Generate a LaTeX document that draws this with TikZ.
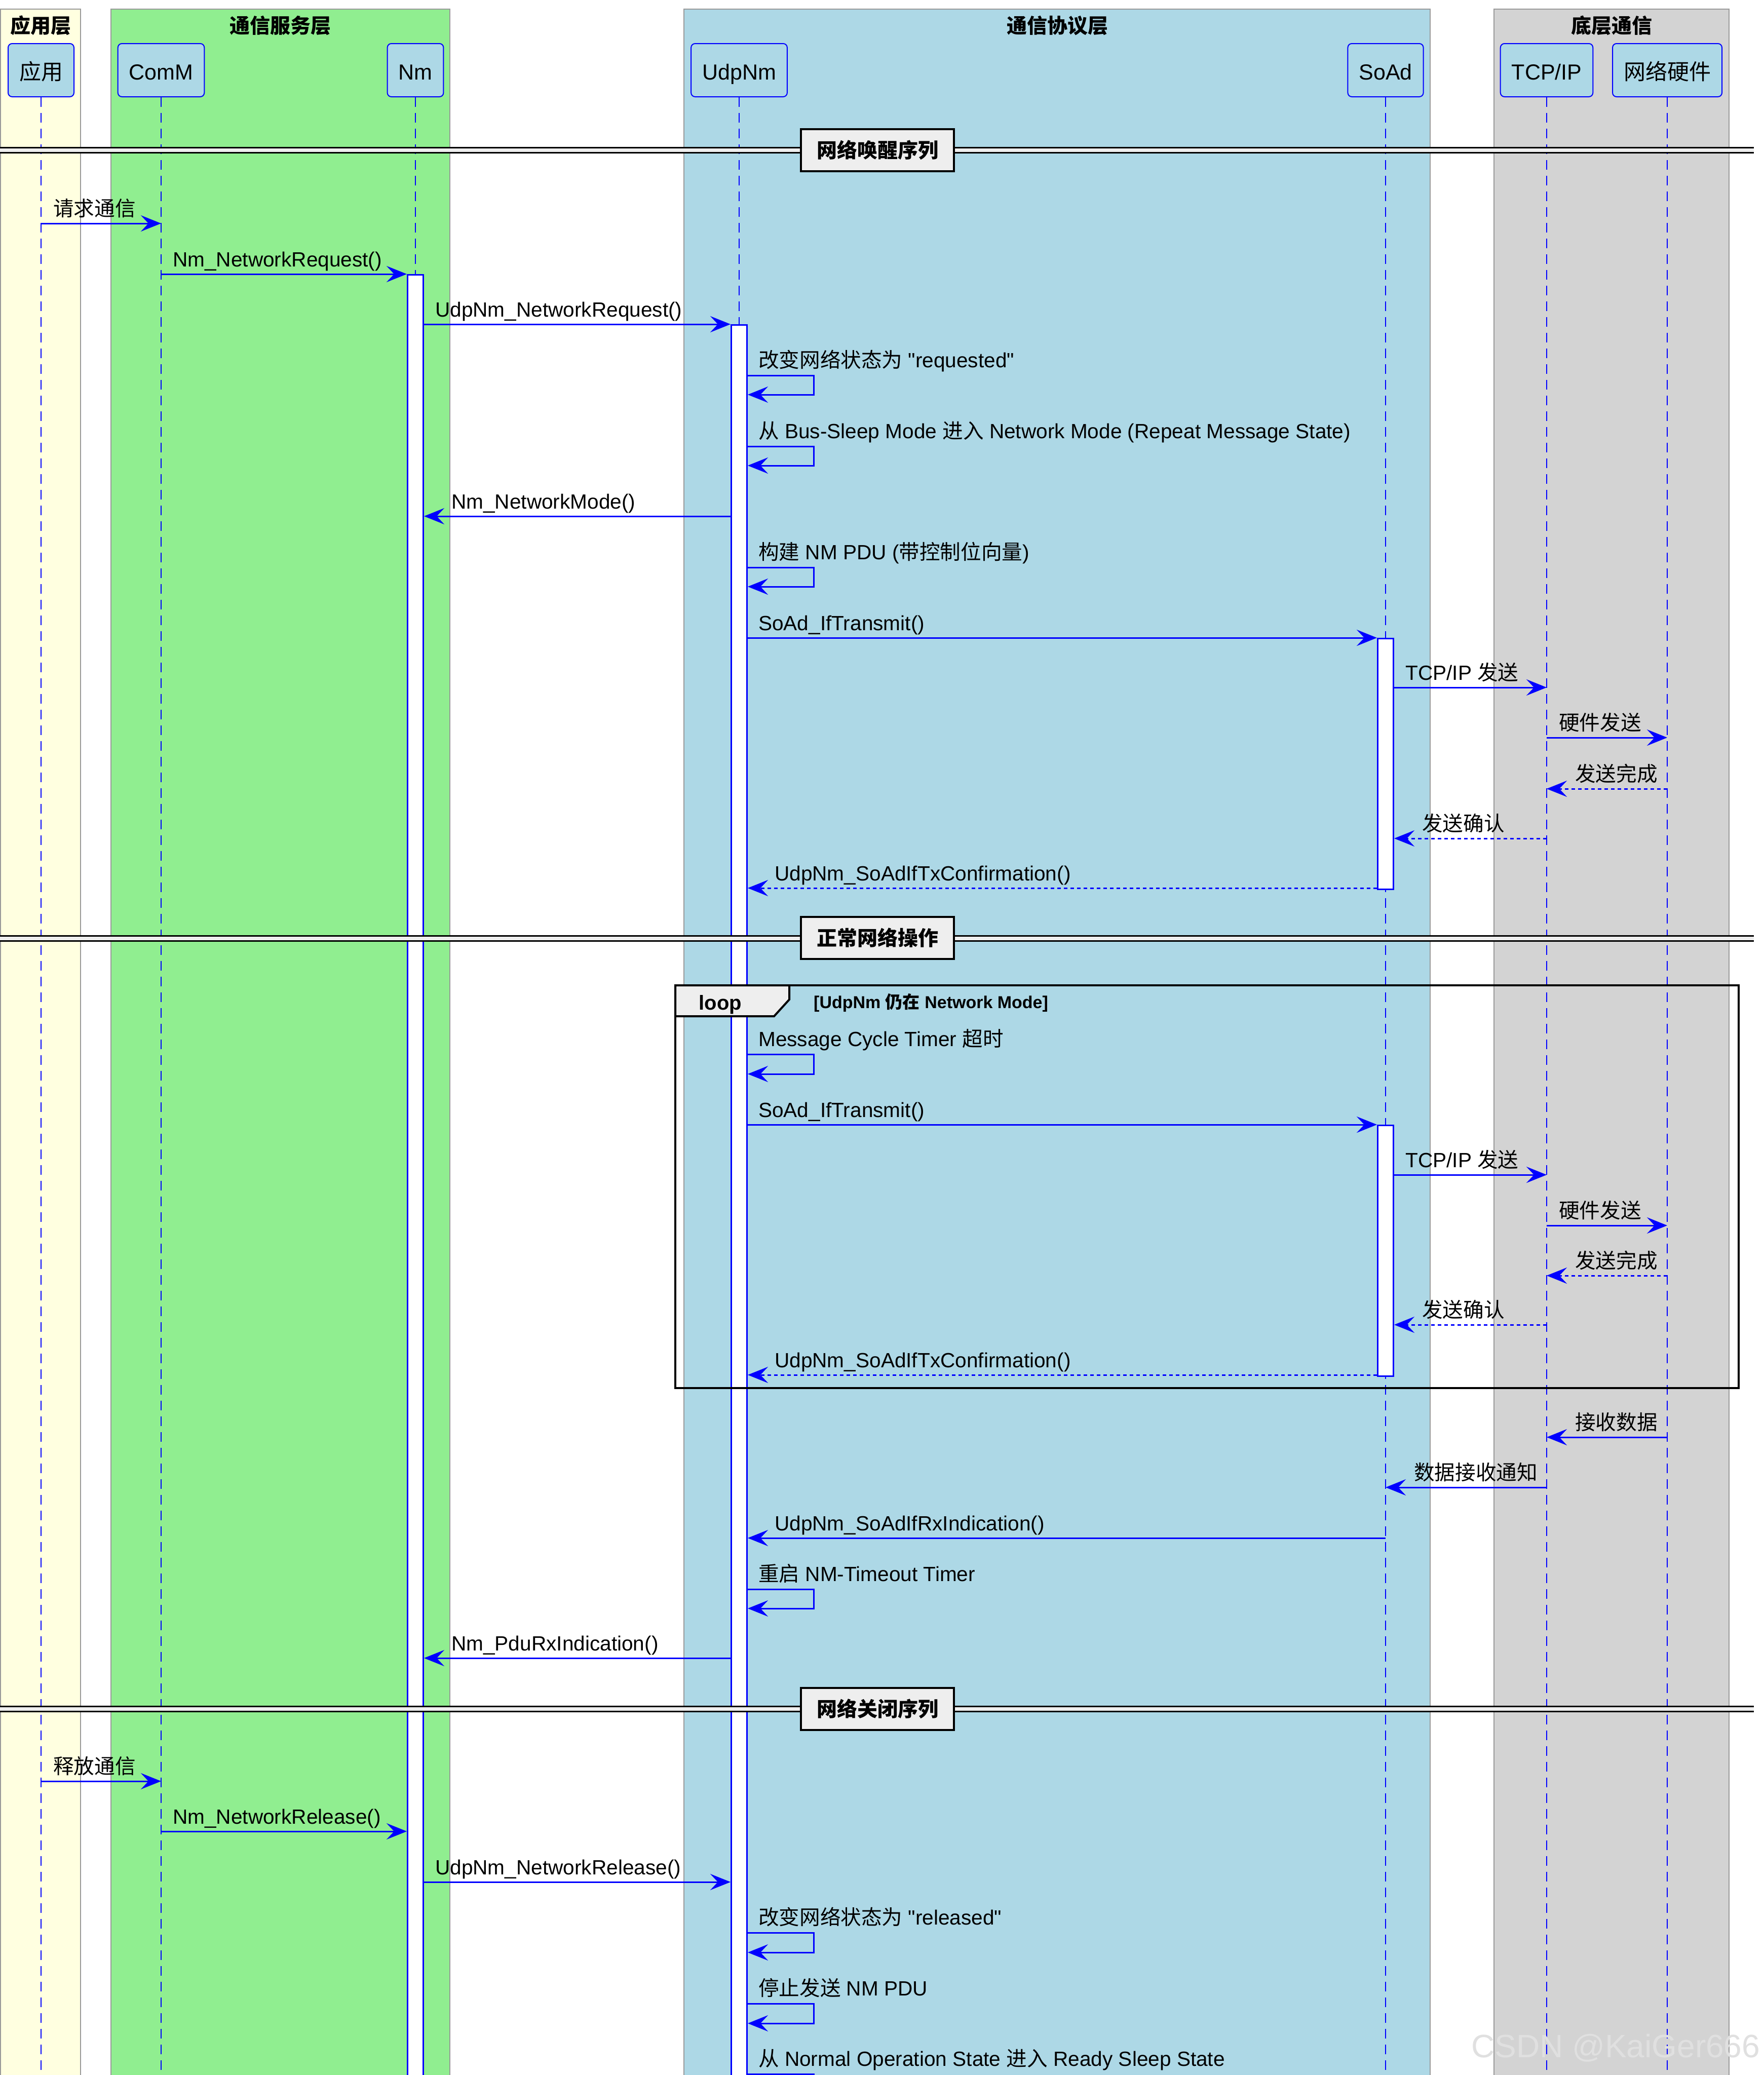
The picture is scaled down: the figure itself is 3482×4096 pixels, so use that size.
\documentclass[tikz,border=0pt]{standalone}
\usepackage{fontspec}
\setmainfont{Liberation Sans}[Ligatures=TeXOff]
\newfontfamily\cjk{Noto Sans CJK SC}
\usepackage{xcolor}
\usepackage{tikz}
\usetikzlibrary{positioning,arrows.meta,calc}
\definecolor{appyellow}{HTML}{FFFFE0}
\definecolor{svcgreen}{HTML}{90EE90}
\definecolor{protblue}{HTML}{ADD8E6}
\definecolor{lowgray}{HTML}{D3D3D3}
\definecolor{msgblue}{HTML}{0000FF}
\definecolor{framegray}{HTML}{EEEEEE}
\definecolor{edgegray}{HTML}{999999}
\newcommand{\zh}[1]{{\cjk #1}}
\newcommand{\pxsize}[1]{\fontsize{#1pt}{#1pt}\selectfont}

\begin{document}
\begin{tikzpicture}[x=1pt,y=-1pt, every node/.style={font=\pxsize{40.6}},
  layerbox/.style={draw=edgegray,line width=2pt},
  layertitle/.style={anchor=base,inner sep=0pt,font=\pxsize{40}\bfseries},
  lifehead/.style={draw=msgblue,line width=2pt,fill=protblue,rounded corners=8pt,minimum height=105pt,inner xsep=22pt,text height=47pt,text depth=9pt,font=\pxsize{43}},
  lifeline/.style={draw=msgblue,line width=1.8pt,dash pattern=on 19pt off 12pt},
  act/.style={draw=msgblue,line width=3pt,fill=white,minimum width=31pt,inner sep=0pt,anchor=north},
  msg/.style={draw=msgblue,line width=3pt,-{Stealth[length=40pt,width=32pt,inset=15pt]}},
  reply/.style={msg,dash pattern=on 7pt off 6pt},
  msglabel/.style={anchor=base west,inner sep=0pt},
  sepline/.style={draw=black,line width=3pt,double=framegray,double distance=7pt},
  seplabel/.style={draw=black,line width=4pt,fill=framegray,minimum width=302pt,minimum height=83pt,text height=34pt,text depth=4pt,font=\pxsize{40}\bfseries}]
\useasboundingbox (0,0) rectangle (3482,4096);
\clip (0,0) rectangle (3482,4096);
\fill[white] (0,0) rectangle (3482,4096);

\draw[layerbox,fill=appyellow] (1,18) rectangle (159,4120);
\draw[layerbox,fill=svcgreen] (219,18) rectangle (888,4120);
\draw[layerbox,fill=protblue] (1350,18) rectangle (2823,4120);
\draw[layerbox,fill=lowgray] (2949,18) rectangle (3413,4120);
\node[layertitle] (tapp) at (80,65) {\zh{应用层}};
\node[layertitle] (tsvc) at (553,65) {\zh{通信服务层}};
\node[layertitle] (tprot) at (2087,65) {\zh{通信协议层}};
\node[layertitle] (tlow) at (3181,65) {\zh{底层通信}};

\node[lifehead] (app) at (81,138.5) {\zh{应用}};
\node[lifehead] (comm) at (318,138.5) {ComM};
\node[lifehead] (nm) at (820,138.5) {Nm};
\node[lifehead] (udpnm) at (1459,138.5) {UdpNm};
\node[lifehead] (soad) at (2735,138.5) {SoAd};
\node[lifehead] (tcpip) at (3053,138.5) {TCP/IP};
\node[lifehead] (hw) at (3291,138.5) {\zh{网络硬件}};
\draw[lifeline] (app.south) -- (app |- 0,4120);
\draw[lifeline] (comm.south) -- (comm |- 0,4120);
\draw[lifeline] (nm.south) -- (nm |- 0,4120);
\draw[lifeline] (udpnm.south) -- (udpnm |- 0,4120);
\draw[lifeline] (soad.south) -- (soad |- 0,4120);
\draw[lifeline] (tcpip.south) -- (tcpip |- 0,4120);
\draw[lifeline] (hw.south) -- (hw |- 0,4120);

\node[act,minimum height=3600pt] (nmact) at (nm |- 0,541) {};
\node[act,minimum height=3500pt] (udpact) at (udpnm |- 0,640) {};
\node[act,minimum height=495pt] (soadact1) at (soad |- 0,1259) {};
\node[act,minimum height=495pt] (soadact2) at (soad |- 0,2220) {};

\draw[line width=4pt] (1333,1945) rectangle (3432,2740);
\draw[line width=4pt,fill=framegray] (1333,1945) -- (1558,1945) -- (1558,1973) -- (1528,2006) -- (1333,2006) -- cycle;
\node[anchor=base,inner sep=0pt,font=\pxsize{40}\bfseries] (looptag) at (1422,1993) {loop};
\node[anchor=base west,inner sep=0pt,font=\pxsize{34}\bfseries] (loopguard) at (1606,1990) {[UdpNm \zh{仍在} Network Mode]};

\draw[msg] (app |- 0,441) -- (comm |- 0,441);
\node[msglabel] (l1) at (105,426) {\zh{请求通信}};
\draw[msg] (comm |- 0,541) -- (nmact.west |- 0,541);
\node[msglabel] (l2) at (341,526) {Nm\_NetworkRequest()};
\draw[msg] (nmact.east |- 0,640) -- (udpact.west |- 0,640);
\node[msglabel] (l3) at (859,625) {UdpNm\_NetworkRequest()};
\draw[msg] (udpact.east |- 0,741) -- ++(130,0) -- ++(0,38) -- (udpact.east |- 0,779);
\node[msglabel] (l4) at (1497,725) {\zh{改变网络状态为} "requested"};
\draw[msg] (udpact.east |- 0,881) -- ++(130,0) -- ++(0,38) -- (udpact.east |- 0,919);
\node[msglabel] (l5) at (1497,865) {\zh{从} Bus-Sleep Mode \zh{进入} Network Mode (Repeat Message State)};
\draw[msg] (udpact.west |- 0,1019) -- (nmact.east |- 0,1019);
\node[msglabel] (l6) at (891,1004) {Nm\_NetworkMode()};
\draw[msg] (udpact.east |- 0,1120) -- ++(130,0) -- ++(0,38) -- (udpact.east |- 0,1158);
\node[msglabel] (l7) at (1497,1104) {\zh{构建} NM PDU (\zh{带控制位向量})};
\draw[msg] (udpact.east |- 0,1259) -- (soadact1.west |- 0,1259);
\node[msglabel] (l8) at (1497,1244) {SoAd\_IfTransmit()};
\draw[msg] (soadact1.east |- 0,1357) -- (tcpip |- 0,1357);
\node[msglabel] (l9) at (2774,1342) {TCP/IP \zh{发送}};
\draw[msg] (tcpip |- 0,1456) -- (hw |- 0,1456);
\node[msglabel] (l10) at (3077,1441) {\zh{硬件发送}};
\draw[reply] (hw |- 0,1557) -- (tcpip |- 0,1557);
\node[msglabel] (l11) at (3109,1542) {\zh{发送完成}};
\draw[reply] (tcpip |- 0,1655) -- (soadact1.east |- 0,1655);
\node[msglabel] (l12) at (2807,1640) {\zh{发送确认}};
\draw[reply] (soadact1.west |- 0,1753) -- (udpact.east |- 0,1753);
\node[msglabel] (l13) at (1529,1738) {UdpNm\_SoAdIfTxConfirmation()};

\draw[msg] (udpact.east |- 0,2081) -- ++(130,0) -- ++(0,39) -- (udpact.east |- 0,2120);
\node[msglabel] (l14) at (1497,2065) {Message Cycle Timer \zh{超时}};
\draw[msg] (udpact.east |- 0,2220) -- (soadact2.west |- 0,2220);
\node[msglabel] (l15) at (1497,2205) {SoAd\_IfTransmit()};
\draw[msg] (soadact2.east |- 0,2319) -- (tcpip |- 0,2319);
\node[msglabel] (l16) at (2774,2304) {TCP/IP \zh{发送}};
\draw[msg] (tcpip |- 0,2419) -- (hw |- 0,2419);
\node[msglabel] (l17) at (3077,2404) {\zh{硬件发送}};
\draw[reply] (hw |- 0,2518) -- (tcpip |- 0,2518);
\node[msglabel] (l18) at (3109,2503) {\zh{发送完成}};
\draw[reply] (tcpip |- 0,2615) -- (soadact2.east |- 0,2615);
\node[msglabel] (l19) at (2807,2600) {\zh{发送确认}};
\draw[reply] (soadact2.west |- 0,2714) -- (udpact.east |- 0,2714);
\node[msglabel] (l20) at (1529,2699) {UdpNm\_SoAdIfTxConfirmation()};

\draw[msg] (hw |- 0,2837) -- (tcpip |- 0,2837);
\node[msglabel] (l21) at (3109,2822) {\zh{接收数据}};
\draw[msg] (tcpip |- 0,2936) -- (soad |- 0,2936);
\node[msglabel] (l22) at (2791,2921) {\zh{数据接收通知}};
\draw[msg] (soad |- 0,3036) -- (udpact.east |- 0,3036);
\node[msglabel] (l23) at (1529,3021) {UdpNm\_SoAdIfRxIndication()};
\draw[msg] (udpact.east |- 0,3137) -- ++(130,0) -- ++(0,38) -- (udpact.east |- 0,3175);
\node[msglabel] (l24) at (1497,3121) {\zh{重启} NM-Timeout Timer};
\draw[msg] (udpact.west |- 0,3273) -- (nmact.east |- 0,3273);
\node[msglabel] (l25) at (891,3258) {Nm\_PduRxIndication()};

\draw[msg] (app |- 0,3516) -- (comm |- 0,3516);
\node[msglabel] (l26) at (105,3501) {\zh{释放通信}};
\draw[msg] (comm |- 0,3615) -- (nmact.west |- 0,3615);
\node[msglabel] (l27) at (341,3600) {Nm\_NetworkRelease()};
\draw[msg] (nmact.east |- 0,3715) -- (udpact.west |- 0,3715);
\node[msglabel] (l28) at (859,3700) {UdpNm\_NetworkRelease()};
\draw[msg] (udpact.east |- 0,3815) -- ++(130,0) -- ++(0,39) -- (udpact.east |- 0,3854);
\node[msglabel] (l29) at (1497,3799) {\zh{改变网络状态为} "released"};
\draw[msg] (udpact.east |- 0,3955) -- ++(130,0) -- ++(0,39) -- (udpact.east |- 0,3994);
\node[msglabel] (l30) at (1497,3939) {\zh{停止发送} NM PDU};
\draw[msg] (udpact.east |- 0,4094) -- ++(130,0) -- ++(0,39) -- (udpact.east |- 0,4133);
\node[msglabel] (l31) at (1497,4078) {\zh{从} Normal Operation State \zh{进入} Ready Sleep State};

\draw[sepline] (0,296) -- (3462,296);
\node[seplabel] (sep1) at (1732,296.5) {\zh{网络唤醒序列}};
\draw[sepline] (0,1852) -- (3462,1852);
\node[seplabel] (sep2) at (1732,1851) {\zh{正常网络操作}};
\draw[sepline] (0,3373) -- (3462,3373);
\node[seplabel] (sep3) at (1732,3373) {\zh{网络关闭序列}};

\node[anchor=base west,inner sep=0pt,text=white!88!black,font=\pxsize{64}] (wmark) at (2904,4061) {CSDN @KaiGer666};
\end{tikzpicture}
\end{document}
